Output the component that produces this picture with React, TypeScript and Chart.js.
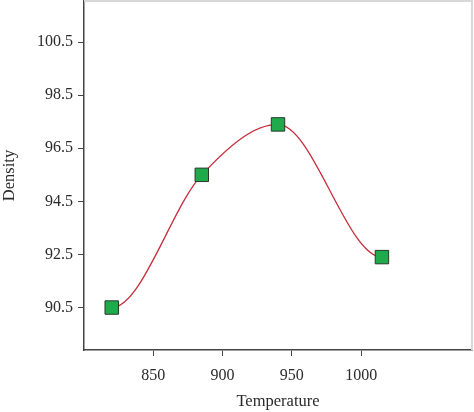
import { useEffect, useRef } from 'react';
import { Chart, registerables } from 'chart.js';

Chart.register(...registerables);

// Density measured at each temperature.
const temperatures = [820, 885, 940, 1015];
const densities = [90.5, 95.5, 97.4, 92.4];
const xTickValues = [850, 900, 950, 1000];
const yTickValues = [90.5, 92.5, 94.5, 96.5, 98.5, 100.5];

const FONT = "'Liberation Serif', 'DejaVu Serif', serif";

// light frame along the top and right of the plot area
const framePlugin = {
  id: 'frame',
  afterDraw(chart: Chart) {
    const { ctx, chartArea } = chart;
    ctx.save();
    ctx.strokeStyle = '#d8d8d8';
    ctx.lineWidth = 2;
    ctx.beginPath();
    ctx.moveTo(chartArea.left, chartArea.top);
    ctx.lineTo(chartArea.right, chartArea.top);
    ctx.lineTo(chartArea.right, chartArea.bottom);
    ctx.stroke();
    ctx.restore();
  },
};

// flatten the spline at both ends, like the original's clamped curve
const flatEndsPlugin = {
  id: 'flatEnds',
  beforeDatasetDraw(chart: Chart, args: any) {
    const meta: any = args.meta;
    const line = meta.dataset;
    if (!line) return;
    line.updateControlPoints(chart.chartArea, meta.iAxis);
    const pts = line.points;
    if (pts.length < 2) return;
    pts[0].cp2y = pts[0].y;
    pts[pts.length - 1].cp1y = pts[pts.length - 1].y;
    line._path = undefined;
  },
};

export default function App() {
  const canvasRef = useRef<HTMLCanvasElement>(null);

  useEffect(() => {
    if (!canvasRef.current) return;
    const chart = new Chart(canvasRef.current, {
      type: 'line',
      data: {
        datasets: [
          {
            data: temperatures.map((t, i) => ({ x: t, y: densities[i] })),
            borderColor: '#c62e3c',
            borderWidth: 1.3,
            cubicInterpolationMode: 'monotone',
            pointStyle: 'rect',
            pointRadius: 9.5,
            pointBackgroundColor: '#1fab4b',
            pointBorderColor: '#263a2c',
            pointBorderWidth: 1,
          },
        ],
      },
      options: {
        animation: false,
        responsive: true,
        maintainAspectRatio: false,
        layout: { autoPadding: false, padding: { top: 1, right: 2, left: 0, bottom: -4 } },
        plugins: { legend: { display: false }, tooltip: { enabled: false } },
        scales: {
          x: {
            type: 'linear',
            min: 800,
            max: 1080,
            afterBuildTicks: (axis) => {
              axis.ticks = xTickValues.map((v) => ({ value: v }));
            },
            afterFit: (axis: any) => {
              axis.height = 66;
              axis.paddingLeft = 0;
              axis.paddingRight = 0;
            },
            grid: {
              drawOnChartArea: false,
              drawTicks: true,
              tickLength: 6,
              tickColor: '#444',
            },
            border: { color: '#444', width: 1.5 },
            ticks: {
              color: '#2a2a2a',
              font: { family: FONT, size: 16 },
              padding: 10,
              maxRotation: 0,
              callback: (v) => String(v),
            },
            title: {
              display: true,
              text: 'Temperature',
              color: '#2a2a2a',
              font: { family: FONT, size: 16.5 },
              padding: { top: 4, bottom: 4 },
            },
          },
          y: {
            type: 'linear',
            min: 88.9,
            max: 102.05,
            afterBuildTicks: (axis) => {
              axis.ticks = yTickValues.map((v) => ({ value: v }));
            },
            afterFit: (axis: any) => {
              axis.width = 84;
              axis.paddingTop = 0;
              axis.paddingBottom = 0;
            },
            grid: {
              drawOnChartArea: false,
              drawTicks: true,
              tickLength: 6,
              tickColor: '#444',
            },
            border: { color: '#444', width: 1.5 },
            ticks: {
              color: '#2a2a2a',
              font: { family: FONT, size: 16 },
              padding: 5,
              callback: (v) => Number(v).toFixed(1),
            },
            title: {
              display: true,
              text: 'Density',
              color: '#2a2a2a',
              font: { family: FONT, size: 16.5 },
              padding: { bottom: 0, top: 0 },
            },
          },
        },
      },
      plugins: [framePlugin, flatEndsPlugin],
    });
    return () => chart.destroy();
  }, []);

  return (
    <div style={{ position: 'absolute', left: 0, top: 0, width: 474, height: 412, background: '#fff' }}>
      <canvas ref={canvasRef} />
    </div>
  );
}
